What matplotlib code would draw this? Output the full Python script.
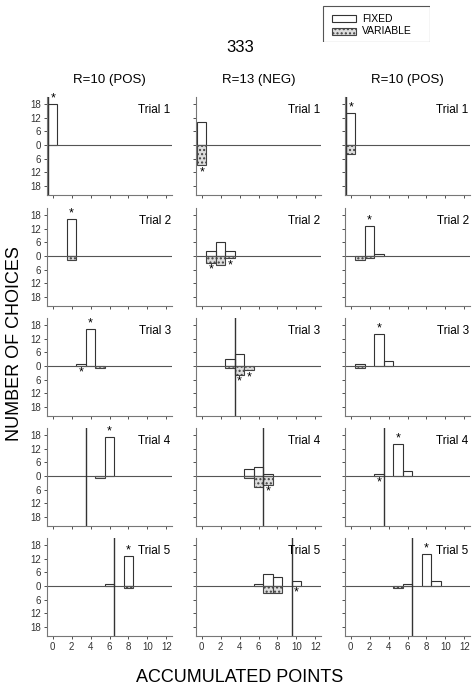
import matplotlib
matplotlib.use("Agg")
import matplotlib.pyplot as plt
from matplotlib.patches import Rectangle

plt.rcParams['font.family'] = ['Liberation Sans', 'DejaVu Sans']

col_titles = ["R=10 (POS)", "R=13 (NEG)", "R=10 (POS)"]
trials = ["Trial 1", "Trial 2", "Trial 3", "Trial 4", "Trial 5"]
y_ticks = [-18, -12, -6, 0, 6, 12, 18]
y_tick_labels = ["18", "12", "6", "0", "6", "12", "18"]
x_ticks = [0, 2, 4, 6, 8, 10, 12]

fixed = [
    [{0: 18}, {2: 16}, {3: 1, 4: 16}, {6: 17}, {6: 1, 8: 13}],
    [{0: 10}, {1: 2, 2: 6, 3: 2}, {3: 3, 4: 5}, {5: 3, 6: 4, 7: 1}, {6: 1, 7: 5, 8: 4, 10: 2}],
    [{0: 14}, {2: 13, 3: 1}, {1: 1, 3: 14, 4: 2}, {3: 1, 5: 14, 6: 2}, {6: 1, 8: 14, 9: 2}],
]
variable = [
    [{}, {2: 2}, {5: 1}, {5: 1}, {8: 1}],
    [{0: 9}, {1: 3, 2: 4, 3: 1}, {3: 1, 4: 4, 5: 2}, {5: 1, 6: 5, 7: 4}, {7: 3, 8: 3}],
    [{0: 4}, {1: 2, 2: 1}, {1: 1}, {}, {5: 1}],
]
crit = [
    [-0.5, None, None, 3.5, 6.5],
    [None, None, 3.5, 6.5, 9.5],
    [-0.5, None, None, 3.5, 6.5],
]
stars = [
    [[(0, 1)], [(2, 1)], [(4, 1), (3, -1)], [(6, 1)], [(8, 1)]],
    [[(0, -1)], [(1, -1), (3, -1)], [(4, -1), (5, -1)], [(7, -1)], [(10, -1)]],
    [[(0, 1)], [(2, 1)], [(3, 1)], [(5, 1), (3, -1)], [(8, 1)]],
]

W, H = 474, 687
fig = plt.figure(figsize=(W / 100, H / 100), dpi=100)
lefts = [47, 196, 345]
tops = [97, 208, 318, 428, 538]
aw, ah = 125, 98

for c in range(3):
    for r in range(5):
        ax = fig.add_axes([lefts[c] / W, 1 - (tops[r] + ah) / H, aw / W, ah / H])
        ax.set_xlim(-0.6, 12.6)
        ax.set_ylim(-22, 21)
        for s in ["top", "right"]:
            ax.spines[s].set_visible(False)
        for s in ["left", "bottom"]:
            ax.spines[s].set_color("#777777")
            ax.spines[s].set_linewidth(0.8)
        ax.axhline(0, color="#555555", lw=0.8)
        for x, v in fixed[c][r].items():
            ax.add_patch(Rectangle((x - 0.5, 0), 1, v, fill=False, ec="#333333", lw=0.8))
        for x, v in variable[c][r].items():
            ax.add_patch(Rectangle((x - 0.5, 0), 1, -v, fc="#dddddd", ec="#444444",
                                   hatch="....", lw=0.8))
        if crit[c][r] is not None:
            ax.axvline(crit[c][r], color="#333333", lw=1.0)
        for x, sgn in stars[c][r]:
            if sgn > 0:
                y = fixed[c][r].get(x, 0) + 2.5
            else:
                y = -variable[c][r].get(x, 0) - 3
            ax.text(x, y, "*", ha="center", va="center", fontsize=9)
        ax.text(0.99, 0.93, trials[r], transform=ax.transAxes, ha="right", va="top", fontsize=8.5)
        ax.set_yticks(y_ticks)
        ax.set_xticks(x_ticks)
        ax.tick_params(length=2, width=0.6, colors="#333333", labelsize=7, pad=2)
        if c == 0:
            ax.set_yticklabels(y_tick_labels)
        else:
            ax.set_yticklabels([])
        if r == 4:
            ax.set_xticklabels([str(t) for t in x_ticks])
        else:
            ax.set_xticklabels([])
        if r == 0:
            ax.set_title(col_titles[c], fontsize=9.5, pad=10)

fig.text(240 / W, 1 - 48 / H, "333", ha="center", va="center", fontsize=12)
fig.text(15 / W, 0.5, "NUMBER OF CHOICES", rotation=90, ha="center", va="center", fontsize=13)
fig.text(240 / W, 1 - 678 / H, "ACCUMULATED POINTS", ha="center", va="center", fontsize=13)

lax = fig.add_axes([322 / W, 1 - 42 / H, 108 / W, 37 / H])
lax.set_xlim(0, 108); lax.set_ylim(37, 0); lax.axis("off")
lax.add_patch(Rectangle((0.5, 0.5), 107, 36, fill=False, ec="#555555", lw=0.8))
lax.add_patch(Rectangle((10, 10), 24, 7, fill=False, ec="#333333", lw=0.8))
lax.add_patch(Rectangle((10, 23), 24, 7, fc="#dddddd", ec="#444444", hatch="....", lw=0.8))
lax.text(40, 13.5, "FIXED", va="center", fontsize=7.5)
lax.text(40, 26.5, "VARIABLE", va="center", fontsize=7.5)

fig.savefig("out.png", dpi=100)
